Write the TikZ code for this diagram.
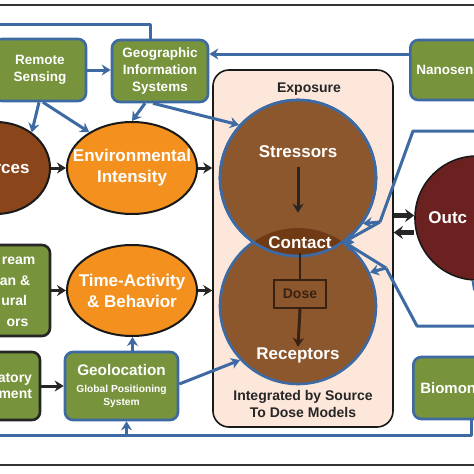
\documentclass[tikz,border=0pt]{standalone}
\usepackage{fontspec}
\setmainfont{Liberation Sans}
\usetikzlibrary{arrows.meta,positioning,shapes.geometric,calc}

\definecolor{boxgreen}{RGB}{119,147,60}
\definecolor{linkblue}{RGB}{62,106,163}
\definecolor{ovalorange}{RGB}{244,145,30}
\definecolor{srcbrown}{RGB}{139,69,26}
\definecolor{stressbrown}{RGB}{140,87,45}
\definecolor{lensbrown}{RGB}{112,58,20}
\definecolor{outcred}{RGB}{108,33,33}
\definecolor{expofill}{RGB}{252,231,218}
\definecolor{dosebrown}{RGB}{58,34,18}

\begin{document}
\begin{tikzpicture}[x=1pt,y=-1pt,
    greenbox/.style={rectangle,rounded corners=8pt,draw=linkblue,line width=2.6pt,fill=boxgreen,text=white,font=\bfseries\fontsize{13.5}{17}\selectfont,align=center,inner sep=0pt},
    darkbox/.style={greenbox,draw=black!85},
    oval/.style={ellipse,draw=black!90,line width=2pt,fill=ovalorange,minimum width=130pt,minimum height=92pt,inner sep=0pt},
    ovaltext/.style={text=white,font=\bfseries\fontsize{17}{21}\selectfont,align=center},
    ball/.style={circle,draw=linkblue,line width=2.6pt,fill=stressbrown,minimum size=156pt,inner sep=0pt},
    balltext/.style={text=white,font=\bfseries\fontsize{17}{20}\selectfont},
    boxtext/.style={text=black!85,font=\bfseries\fontsize{14}{17}\selectfont,align=center},
    link/.style={draw=linkblue,line width=3pt,-{Stealth[length=9pt,width=11pt]}},
    wire/.style={draw=linkblue,line width=3pt,line join=round},
    flow/.style={draw=black!85,line width=3pt,-{Stealth[length=9pt,width=11pt]}},
    bigflow/.style={draw=black!85,line width=5pt,-{Stealth[length=9pt,width=13pt]}}]

    \useasboundingbox (0,0) rectangle (474,474);
    \clip (0,0) rectangle (474,474);

    % frame
    \draw[black!80,line width=1.5pt] (-10,5) -- (484,5);
    \draw[black!80,line width=1.5pt] (-10,465) -- (484,465);

    % top row
    \node[greenbox,minimum width=92pt,minimum height=62pt] (rs) at (40,70) {Remote\\Sensing};
    \node[greenbox,minimum width=96pt,minimum height=62pt] (gis) at (160,71) {Geographic\\Information\\Systems};
    \node[greenbox,anchor=west,minimum height=60pt,text width=98pt,align=left,inner xsep=6pt] (nano) at (409,70) {Nanosen};

    \node[oval,fill=srcbrown,minimum width=108pt,label={[ovaltext]center:\phantom{Sou}rces}] (src) at (-4,168) {};
    \node[oval,label={[ovaltext]center:Environmental\\Intensity}] (envint) at (132,168) {};

    % exposure
    \node[rectangle,rounded corners=16pt,draw=black!90,line width=1.6pt,fill=expofill,minimum width=180pt,minimum height=357pt] (expo) at (303,248.5) {};
    \node[boxtext] (expotitle) at ([xshift=6pt,yshift=-20pt]expo.north) {Exposure};
    \node[boxtext] (expofoot) at ([yshift=24pt]expo.south) {Integrated by Source\\To Dose Models};

    \node[ball,label={[balltext,name=recepname,yshift=-49pt]center:Receptors}] (recep) at (298,306) {};
    \node[ball,label={[balltext,name=stressname,yshift=26pt]center:Stressors}] (stress) at (298,178) {};
    \begin{scope}
        \clip (stress.center) circle (78pt);
        \fill[lensbrown] (recep.center) circle (78pt);
    \end{scope}
    \draw[linkblue,line width=2.6pt] (stress.center) circle (78pt);
    \node[balltext] (contact) at (300,243) {Contact};
    \node[rectangle,draw=dosebrown,line width=1.8pt,minimum width=52pt,minimum height=28pt,text=dosebrown,font=\bfseries\fontsize{14}{17}\selectfont] (dose) at (300,294) {Dose};

    \draw[flow] ([yshift=-5pt]stressname.south) -- ([yshift=14pt]recep.north);
    \draw[dosebrown,line width=2.6pt] (contact.south) -- (dose.north);
    \draw[flow,draw=dosebrown] (dose.south) -- ([yshift=-3pt]recepname.north);

    % outcomes
    \node[circle,draw=black!90,line width=1.6pt,fill=outcred,minimum size=124pt,label={[balltext,xshift=-7pt]center:Outc\phantom{omes}}] (outc) at (477,218) {};
    \coordinate (outA) at ([yshift=33pt]expo.east);
    \coordinate (outB) at ([yshift=16pt]expo.east);
    \draw[bigflow] (outA) -- (outA -| outc.west);
    \draw[bigflow] (outB -| outc.west) -- (outB);

    % lower rows
    \node[darkbox,minimum width=94pt,minimum height=91pt,font=\bfseries\fontsize{14}{20.5}\selectfont] (upf) at (3,290.5) {\phantom{Upst}ream\\\phantom{Urb}an \&\\\phantom{Nat}ural\\\phantom{Fact}ors};
    \node[oval,minimum height=91pt,label={[ovaltext]center:Time-Activity\\\& Behavior}] (timeact) at (132,290.5) {};
    \node[darkbox,minimum height=68pt,text width=94pt,align=right,inner xsep=8pt,font=\bfseries\fontsize{14}{16.5}\selectfont] (amb) at (-15,386) {atory\\ment};
    \node[greenbox,minimum width=113pt,minimum height=68pt] (geo) at (121.5,386) {\fontsize{15.3}{16}\selectfont Geolocation\\{\fontsize{10.2}{12}\selectfont Global Positioning}\\[-4pt]{\fontsize{10.2}{12}\selectfont System}};
    \node[greenbox,anchor=west,minimum height=62pt,text width=96pt,align=left,inner xsep=7pt,font=\bfseries\fontsize{15}{18}\selectfont] (bio) at (412,388) {Biomon};

    % black flow
    \draw[flow] (src.east) -- (envint.west);
    \draw[flow] (envint.east) -- (envint.east -| expo.west);
    \draw[flow] (upf.east) -- (timeact.west);
    \draw[flow] (timeact.east) -- (timeact.east -| expo.west);
    \draw[flow] (amb.east) -- (amb.east -| geo.west);

    % blue links
    \coordinate (topleft) at (-10,24);
    \draw[wire] ([xshift=-10pt]gis.north) |- (topleft);
    \draw[link] (rs.east) -- (rs.east -| gis.west);
    \coordinate (nanoin) at ([yshift=16pt]nano.west);
    \draw[link] (nanoin) -- (nanoin -| gis.east);
    \draw[link] ([xshift=-1pt]rs.south) -- (src.45);
    \draw[link] ([xshift=3pt]rs.south) -- (envint.140);
    \draw[link] ([xshift=-15pt]gis.south) -- (envint.north);
    \draw[link] ([xshift=-7pt]gis.south) -- (stress.138);

    \coordinate (geotop) at ([xshift=11pt]geo.north);
    \draw[link] (geotop) -- (geotop |- timeact.south);
    \draw[link] ([yshift=2pt]geo.east) -- (recep.223);
    \coordinate (botleft) at (-10,435);
    \draw[wire] ([xshift=3pt]bio.south) |- (botleft);
    \coordinate (geobot) at ([xshift=5pt]geo.south);
    \draw[link] (geobot |- botleft) -- (geobot);

    \coordinate (upin) at (484,131);
    \coordinate (upbend) at (380,222);
    \coordinate (lowin) at (484,326);
    \coordinate (lowbend) at (386,268);
    \coordinate (lensR) at (344,242);
    \draw[wire] (upin) -- (413,131) -- (upbend);
    \draw[link] (upbend) -- (lensR);
    \draw[link] (upbend) -- (stress.-35);
    \draw[wire] (lowin) -- (417,326) -- (lowbend);
    \draw[link] (lowbend) -- (lensR);
    \draw[link] (lowbend) -- (recep.25);
    \coordinate (outcin) at (490,302);
    \draw[link] (outcin) -- (outc.-95);
\end{tikzpicture}
\end{document}
